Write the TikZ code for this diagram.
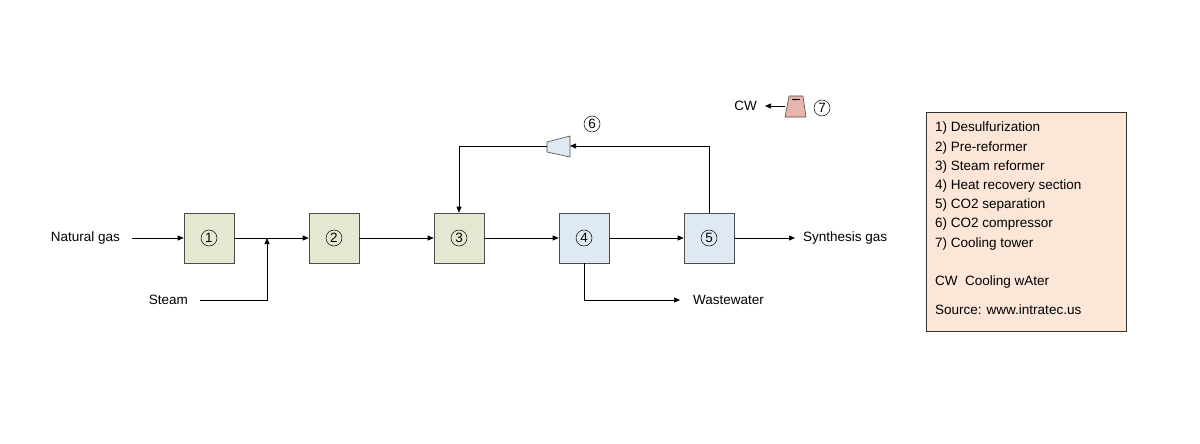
\documentclass[tikz,border=0pt]{standalone}
\usepackage{fontspec}
\setmainfont{Liberation Sans}
\usetikzlibrary{arrows.meta}
\definecolor{gfill}{HTML}{E3E8D1}
\definecolor{bfill}{HTML}{DFE9F3}
\definecolor{lfill}{HTML}{FCE6D8}
\definecolor{tfill}{HTML}{E8B4AE}
\begin{document}
\begin{tikzpicture}[x=1pt,y=-1pt,
  font=\fontsize{13.5}{16}\selectfont,
  unit/.style={draw=black!70,line width=0.6pt,minimum width=50pt,minimum height=50pt,inner sep=0},
  num/.style={circle,draw,line width=0.5pt,inner sep=0,minimum size=16pt},
  flow/.style={line width=0.6pt,-{Triangle[length=6pt,width=5pt]}},
  line/.style={line width=0.6pt},
  lbl/.style={inner sep=0}]
\useasboundingbox (0,0) rectangle (1200,444);
\foreach \i/\x/\c in {1/209/gfill,2/334/gfill,3/459/gfill,4/584/bfill,5/709/bfill}{
  \node[unit,fill=\c] (u\i) at (\x,238) {};
  \node[num] (n\i) at (\x,238) {\i};
}
\node[lbl,anchor=east] (ng) at (120,238) {Natural gas};
\node[lbl,anchor=east] (st) at (188,300) {Steam};
\node[lbl,anchor=west] (sg) at (803,238) {Synthesis gas};
\node[lbl,anchor=west] (ww) at (693,300) {Wastewater};
\coordinate (ngs) at (132,238);
\coordinate (sts) at (200,300);
\coordinate (mix) at (267,238);
\coordinate (sge) at (795,238);
\coordinate (wwe) at (680,300);
\draw[flow] (ngs) -- (u1.west);
\draw[flow] (u1.east) -- (u2.west);
\draw[flow] (sts) -| (mix);
\draw[flow] (u2.east) -- (u3.west);
\draw[flow] (u3.east) -- (u4.west);
\draw[flow] (u4.east) -- (u5.west);
\draw[flow] (u5.east) -- (sge);
\draw[flow] (u4.south) |- (wwe);
% compressor
\draw[line,draw=black!70,fill=bfill] (547,142) -- (570,136) -- (570,157) -- (547,152) -- cycle;
\coordinate (cin) at (570,146);
\coordinate (cout) at (547,146);
\node[num] (n6) at (592,124) {6};
\draw[flow] (u5.north) |- (cin);
\draw[flow] (cout) -| (u3.north);
% cooling tower
\draw[line,draw=black!70,fill=tfill] (789,96) -- (803,96) -- (806,117) -- (785,117) -- cycle;
\draw[line width=0.4pt] (792,99) -- (800,99);
\node[font=\fontsize{7}{7}\selectfont,inner sep=0] at (795,101) {*};
\coordinate (ctw) at (785,106);
\coordinate (cwe) at (765,106);
\draw[flow] (ctw) -- (cwe);
\node[lbl,anchor=east] (cw) at (757,106) {CW};
\node[num] (n7) at (822,108) {7};
% legend
\node[draw=black!80,line width=0.6pt,fill=lfill,minimum width=200pt,minimum height=219pt,anchor=north west,inner sep=0] (leg) at (926,112) {};
\node[lbl,anchor=north west,align=left,font=\fontsize{13.5}{19.2}\selectfont] (legt) at (935,122) {1) Desulfurization\\2) Pre-reformer\\3) Steam reformer\\4) Heat recovery section\\5) CO2 separation\\6) CO2 compressor\\7) Cooling tower\\[19.2pt]CW\ \ Cooling wAter\\[10pt]Source: www.intratec.us};
\end{tikzpicture}
\end{document}
